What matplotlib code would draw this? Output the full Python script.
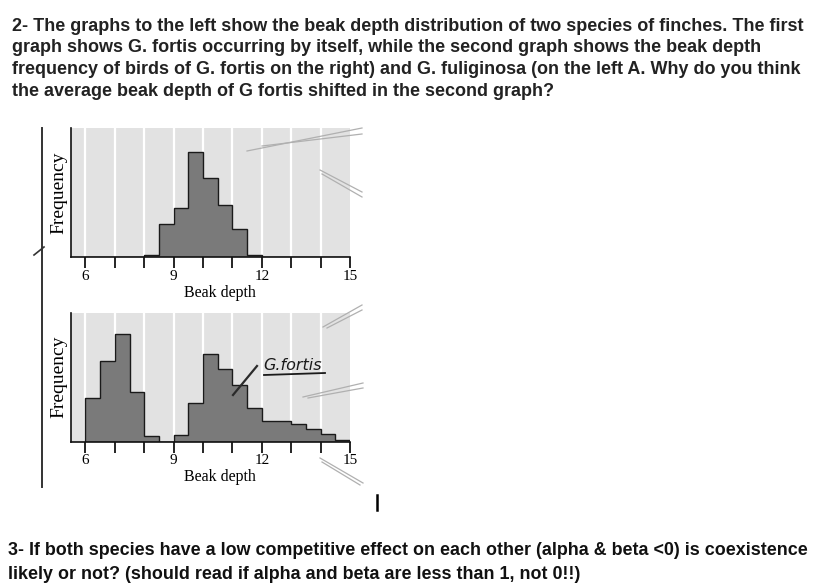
import matplotlib
matplotlib.use("Agg")
import matplotlib.pyplot as plt

bin_edges = [6.0, 6.5, 7.0, 7.5, 8.0, 8.5, 9.0, 9.5, 10.0, 10.5,
             11.0, 11.5, 12.0, 12.5, 13.0, 13.5, 14.0, 14.5, 15.0]
fortis_alone = [0, 0, 0, 0, 6, 98, 148, 315, 235, 155, 85, 6, 0, 0, 0, 0, 0, 0]
fuliginosa_together = [132, 242, 322, 148, 18, 0, 0, 0, 0, 0, 0, 0, 0, 0, 0, 0, 0, 0]
fortis_together = [0, 0, 0, 0, 0, 0, 20, 115, 262, 217, 170, 100, 62, 62, 52, 37, 23, 5]
tick_pos = [6, 7, 8, 9, 10, 11, 12, 13, 14, 15]
tick_labels = ["6", "", "", "9", "", "", "12", "", "", "15"]
grid_pos = [6, 7, 8, 9, 10, 11, 12, 13, 14]

question2 = [
    "2- The graphs to the left show the beak depth distribution of two species of finches. The first",
    "graph shows G. fortis occurring by itself, while the second graph shows the beak depth",
    "frequency of birds of G. fortis on the right) and G. fuliginosa (on the left A. Why do you think",
    "the average beak depth of G fortis shifted in the second graph?",
]
question3 = [
    "3- If both species have a low competitive effect on each other (alpha & beta <0) is coexistence",
    "likely or not? (should read if alpha and beta are less than 1, not 0!!)",
]

W, H = 834, 588
fig = plt.figure(figsize=(W / 100, H / 100), dpi=100)
fig.patch.set_facecolor("white")


def fx(px):
    return px / W


def fy(py):
    return 1 - py / H


BAR = "#7a7a7a"
BG = "#e2e2e2"
SERIF = ["Liberation Serif", "DejaVu Serif"]


def hist_axes(top_px, series):
    ax = fig.add_axes([fx(70.7), fy(top_px + 129), fx(350) - fx(70.7), 129 / H])
    ax.set_facecolor(BG)
    for g in grid_pos:
        ax.axvline(g, color="white", lw=1.6, zorder=0.5)
    for vals in series:
        ax.stairs(vals, bin_edges, fill=True, color=BAR, zorder=2)
        ax.stairs(vals, bin_edges, color="#1a1a1a", lw=1.0, zorder=3)
    ax.set_xlim(5.5, 15)
    ax.set_ylim(0, 386)
    for s in ("top", "right"):
        ax.spines[s].set_visible(False)
    for s in ("left", "bottom"):
        ax.spines[s].set_color("#111111")
        ax.spines[s].set_linewidth(1.2)
        ax.spines[s].set_zorder(4)
    ax.set_yticks([])
    ax.set_xticks(tick_pos)
    ax.set_xticklabels(tick_labels, fontfamily=SERIF, fontsize=11)
    ax.tick_params(axis="x", direction="out", length=8, width=1.2, pad=1)
    ax.set_xlabel("Beak depth", fontfamily=SERIF, fontsize=11.5)
    ax.xaxis.set_label_coords(0.535, -0.215)
    ax.set_ylabel("Frequency", fontfamily=SERIF, fontsize=14)
    ax.yaxis.set_label_coords(-0.012, 0.5)
    return ax


ax1 = hist_axes(128, [fortis_alone])
ax2 = hist_axes(312.7, [fuliginosa_together, fortis_together])

# page text
for i, line in enumerate(question2):
    fig.text(fx(12), fy(31 + i * 21.5), line, fontsize=13, fontweight="bold",
             family=["Liberation Sans", "DejaVu Sans"], color="#222222", va="baseline")
for i, line in enumerate(question3):
    fig.text(fx(8), fy(555 + i * 24), line, fontsize=12.9, fontweight="bold",
             family=["Liberation Sans"], color="#111111", va="baseline")

# overlay for scan marks, handwriting and stray lines (pixel coords)
ov = fig.add_axes([0, 0, 1, 1], zorder=10)
ov.set_xlim(0, W)
ov.set_ylim(H, 0)
ov.axis("off")

ov.plot([42, 42], [128, 487], color="#333333", lw=1.4)
ov.plot([34, 44], [255, 247], color="#333333", lw=1.2)

callouts = [
    ((247, 362), (151, 128)), ((262, 362), (146, 134)),
    ((320, 362), (170, 192)), ((322, 362), (174, 197)),
    ((323, 362), (327, 305)), ((327, 362), (328, 310)),
    ((303, 363), (397, 383)), ((308, 363), (398, 388)),
    ((320, 363), (458, 483)), ((322, 360), (462, 485)),
]
for xs, ys in callouts:
    ov.plot(xs, ys, color="#b0b0b0", lw=0.9)

# handwritten label
ov.text(263, 370, "G.fortis", fontsize=11.5, color="#1a1a1a",
        family=["DejaVu Sans"], style="italic", va="baseline")
ov.plot([264, 325], [375, 373], color="#1a1a1a", lw=1.3)
ov.plot([257, 233], [366, 395], color="#2a2a2a", lw=1.6)

# text cursor
ov.plot([377, 377], [495, 510], color="black", lw=1.8)

fig.savefig("out.png", dpi=100, facecolor="white")
